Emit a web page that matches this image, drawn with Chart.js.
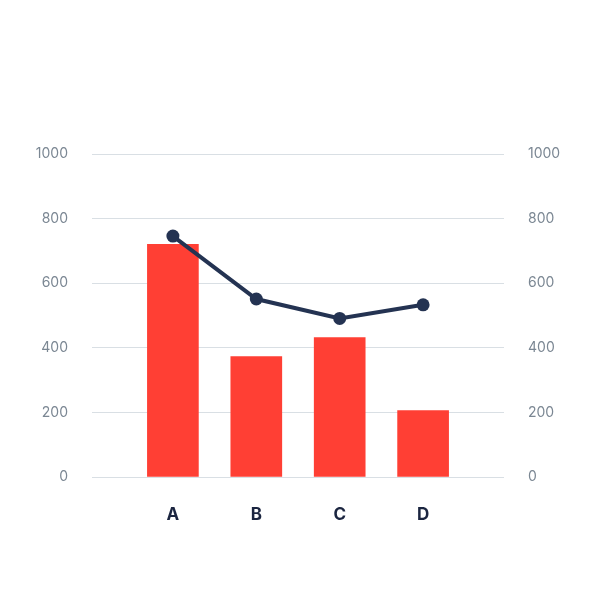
<!DOCTYPE html>
<html lang="en">
<head>
    <meta charset="UTF-8">
    <script src="https://cdn.jsdelivr.net/npm/chart.js"></script>
    <title>Bars and line</title>
    <style>
        html, body {
            margin: 0;
            padding: 0;
            background: #ffffff;
        }
        #wrap {
            width: 600px;
            height: 600px;
        }
    </style>
</head>
<body>
    <div id="wrap">
        <canvas id="myChart" width="600" height="600"></canvas>
    </div>

    <script>
        // data
        const categories = ['A', 'B', 'C', 'D'];
        const barValues = [720, 373, 432, 206];
        const lineValues = [746, 551, 491, 533];
        const yTicks = [0, 200, 400, 600, 800, 1000];

        // categories sit at x = 1..4 on a wider axis so the grid runs past the bars
        const barPoints = categories.map((c, i) => ({ x: i + 1, y: barValues[i] }));
        const linePoints = categories.map((c, i) => ({ x: i + 1, y: lineValues[i] }));

        const tickFont = { family: 'Inter', size: 14 };
        const tickColor = '#7b8793';
        const gridColor = '#d9dfe4';

        function yAxis(position) {
            return {
                type: 'linear',
                position: position,
                min: 0,
                max: 1000,
                border: { display: false },
                grid: {
                    display: position === 'left',
                    color: gridColor,
                    lineWidth: 1,
                    drawTicks: false
                },
                ticks: {
                    stepSize: 200,
                    padding: 24,
                    color: tickColor,
                    font: tickFont,
                    callback: v => yTicks.includes(v) ? String(v) : ''
                },
                afterFit: scale => {
                    scale.width = position === 'left' ? 92 : 96;
                }
            };
        }

        new Chart(document.getElementById('myChart'), {
            type: 'bar',
            data: {
                datasets: [
                    {
                        type: 'line',
                        data: linePoints,
                        yAxisID: 'y1',
                        borderColor: '#243352',
                        backgroundColor: '#243352',
                        borderWidth: 4,
                        pointRadius: 6.5,
                        pointHoverRadius: 6.5,
                        pointBorderWidth: 0,
                        tension: 0,
                        order: 0
                    },
                    {
                        type: 'bar',
                        data: barPoints,
                        yAxisID: 'y',
                        backgroundColor: '#ff3f34',
                        borderWidth: 0,
                        barThickness: 51,
                        order: 1
                    }
                ]
            },
            options: {
                responsive: false,
                animation: false,
                devicePixelRatio: 1,
                layout: {
                    padding: { top: 154, left: 0, right: 0, bottom: 0 }
                },
                plugins: {
                    legend: { display: false },
                    tooltip: { enabled: false }
                },
                scales: {
                    x: {
                        type: 'linear',
                        min: 0.03,
                        max: 4.97,
                        offset: false,
                        border: { display: false },
                        grid: { display: false, drawTicks: false },
                        ticks: {
                            stepSize: 1,
                            padding: 28,
                            color: '#1b2540',
                            font: { family: 'Inter', size: 17, weight: 'bold' },
                            callback: v => Number.isInteger(v) ? (categories[v - 1] || '') : ''
                        },
                        afterFit: scale => {
                            scale.height = 123;
                        }
                    },
                    y: yAxis('left'),
                    y1: yAxis('right')
                }
            }
        });
    </script>
</body>
</html>
